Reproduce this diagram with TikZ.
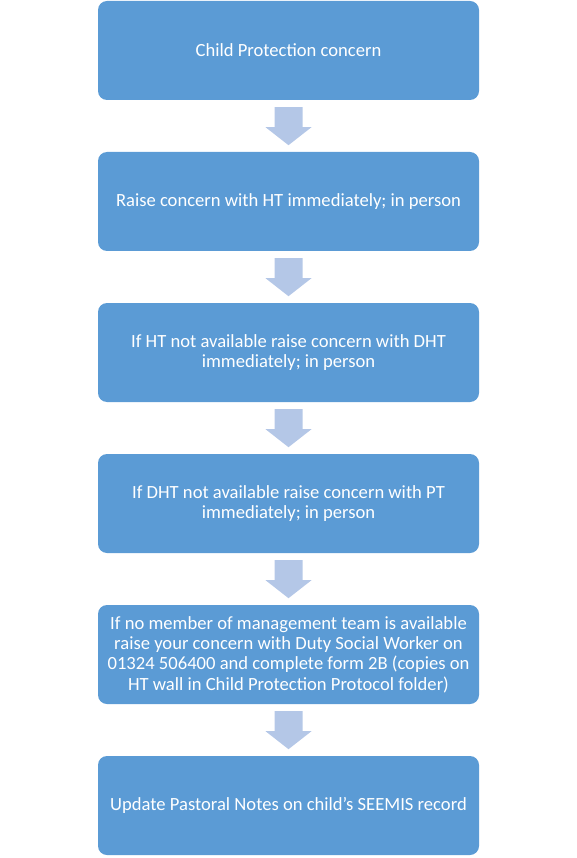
\documentclass[tikz,border=0pt]{standalone}
\usepackage{fontspec}
\setmainfont{Carlito}
\definecolor{boxblue}{HTML}{5B9BD5}
\definecolor{arrowblue}{HTML}{B4C7E7}
\begin{document}
\begin{tikzpicture}[x=1pt,y=-1pt,
  stepbox/.style={fill=boxblue, draw=none, rounded corners=9pt, minimum width=381pt, minimum height=99pt, align=center, text=white, font=\fontsize{18.6}{20.3}\selectfont, inner sep=0pt},
  downarrow/.style={fill=arrowblue, draw=none}]
\useasboundingbox (0,0) rectangle (576,858);
\node[stepbox] (b1) at (288.5,50.5) {Child Protection concern};
\node[stepbox] (b2) at (288.5,201.5) {Raise concern with HT immediately; in person};
\node[stepbox] (b3) at (288.5,352.5) {If HT not available raise concern with DHT\\immediately; in person};
\node[stepbox] (b4) at (288.5,503.5) {If DHT not available raise concern with PT\\immediately; in person};
\node[stepbox] (b5) at (288.5,654.5) {If no member of management team is available\\raise your concern with Duty Social Worker on\\01324 506400 and complete form 2B (copies on\\HT wall in Child Protection Protocol folder)};
\node[stepbox] (b6) at (288.5,805.5) {Update Pastoral Notes on child's SEEMIS record};
\foreach \a in {b1,b2,b3,b4,b5}{
  \fill[downarrow] (\a.south) ++(-14,7) -- ++(28,0) -- ++(0,20) -- ++(9,0) -- ++(-23,18) -- ++(-23,-18) -- ++(9,0) -- cycle;
}
\end{tikzpicture}
\end{document}
